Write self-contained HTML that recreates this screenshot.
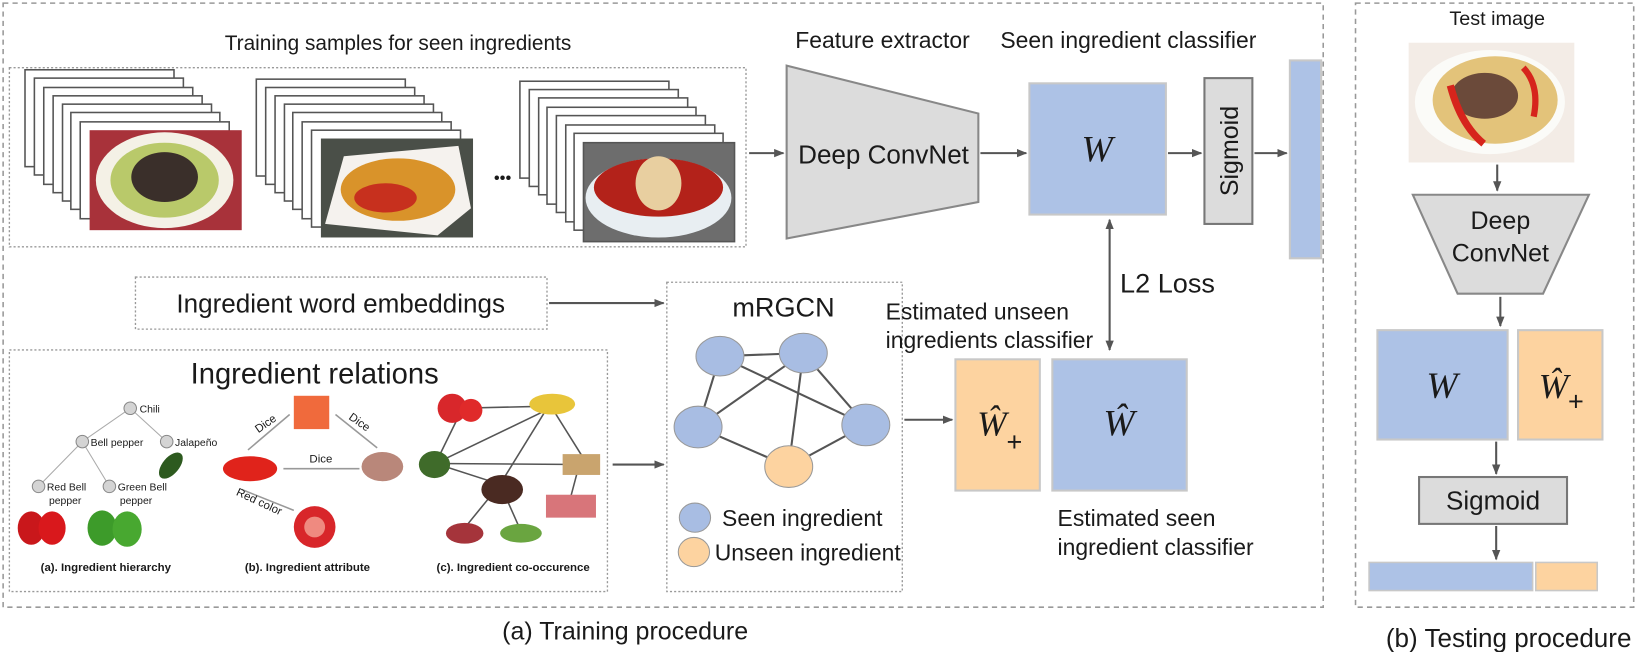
<!DOCTYPE html>
<html><head><meta charset="utf-8"><style>
html,body{margin:0;padding:0;background:#fff;}
svg{display:block;}
text{font-family:"Liberation Sans",sans-serif;fill:#1a1a1a;}
.serif{font-family:"Liberation Serif",serif;font-style:italic;}
</style></head><body>
<svg width="1641" height="652" viewBox="0 0 1575 626" preserveAspectRatio="none" xmlns="http://www.w3.org/2000/svg">
<defs>
<marker id="ah" markerWidth="10" markerHeight="8" refX="9" refY="4" orient="auto" markerUnits="userSpaceOnUse"><path d="M0,0 L10,4 L0,8 z" fill="#555"/></marker>
<marker id="ahs" markerWidth="10" markerHeight="8" refX="1" refY="4" orient="auto" markerUnits="userSpaceOnUse"><path d="M10,0 L0,4 L10,8 z" fill="#555"/></marker>
</defs>

<rect x="3" y="3" width="1267" height="580" fill="none" stroke="#999" stroke-width="1.5" stroke-dasharray="5,4"/>
<rect x="1301" y="3" width="267" height="580" fill="none" stroke="#999" stroke-width="1.5" stroke-dasharray="5,4"/>

<text x="382" y="48" font-size="20" text-anchor="middle">Training samples for seen ingredients</text>
<text x="847" y="46" font-size="22" text-anchor="middle">Feature extractor</text>
<text x="1083" y="46" font-size="22" text-anchor="middle">Seen ingredient classifier</text>

<rect x="9" y="65" width="707" height="172" fill="none" stroke="#999" stroke-width="1.3" stroke-dasharray="2,2"/>

<g fill="#fff" stroke="#555" stroke-width="1.5">
<rect x="24" y="67" width="143" height="93"/><rect x="33" y="75" width="143" height="93"/><rect x="42" y="84" width="143" height="93"/><rect x="51" y="92" width="143" height="93"/><rect x="60" y="100" width="143" height="93"/><rect x="68" y="108" width="143" height="93"/><rect x="77" y="117" width="143" height="93"/>
<rect x="246" y="76" width="143" height="93"/><rect x="255" y="84" width="143" height="93"/><rect x="264" y="92" width="143" height="93"/><rect x="273" y="100" width="143" height="93"/><rect x="281" y="108" width="143" height="93"/><rect x="290" y="117" width="143" height="93"/><rect x="299" y="125" width="143" height="93"/>
<rect x="499" y="78" width="143" height="93"/><rect x="508" y="86" width="143" height="93"/><rect x="517" y="94" width="143" height="93"/><rect x="525" y="103" width="143" height="93"/><rect x="534" y="111" width="143" height="93"/><rect x="543" y="120" width="143" height="93"/><rect x="551" y="128" width="143" height="93"/>
</g>
<rect x="86" y="125" width="146" height="96" fill="#a8323a"/>
<ellipse cx="158" cy="173" rx="66" ry="46" fill="#f4f1e6"/>
<ellipse cx="158" cy="173" rx="52" ry="36" fill="#b9c96a"/>
<ellipse cx="158" cy="170" rx="32" ry="24" fill="#3a2f2a"/>
<rect x="308" y="133" width="146" height="95" fill="#4a4f48"/>
<path d="M312,215 L330,150 L440,140 L452,200 L420,226 Z" fill="#f5f2ee"/>
<ellipse cx="382" cy="182" rx="55" ry="30" fill="#d9932a"/>
<ellipse cx="370" cy="190" rx="30" ry="14" fill="#c7301e"/>
<rect x="560" y="137" width="145" height="95" fill="#6d6d6d"/>
<ellipse cx="632" cy="190" rx="70" ry="38" fill="#e8eef2"/>
<ellipse cx="632" cy="180" rx="62" ry="28" fill="#b3221a"/>
<ellipse cx="632" cy="176" rx="22" ry="26" fill="#e8cfa0"/>
<rect x="560" y="137" width="145" height="95" fill="none" stroke="#555" stroke-width="1.5"/>
<text x="474" y="176" font-size="16" fill="#555">•••</text>

<line x1="719" y1="147" x2="752" y2="147" stroke="#555" stroke-width="2" marker-end="url(#ah)"/>
<polygon points="755,63 939,109 939,194 755,229" fill="#dcdcdc" stroke="#888" stroke-width="2"/>
<text x="848" y="157" font-size="25" text-anchor="middle">Deep ConvNet</text>
<line x1="941" y1="147" x2="985" y2="147" stroke="#555" stroke-width="2" marker-end="url(#ah)"/>
<rect x="988" y="80" width="131" height="126" fill="#adc2e6" stroke="#c8c8c8" stroke-width="2"/>
<text x="1053" y="155" font-size="36" class="serif" text-anchor="middle">W</text>
<line x1="1121" y1="147" x2="1153" y2="147" stroke="#555" stroke-width="2" marker-end="url(#ah)"/>
<rect x="1156" y="75" width="46" height="140" fill="#dcdcdc" stroke="#777" stroke-width="2"/>
<text transform="translate(1188,145) rotate(-90)" font-size="24" text-anchor="middle">Sigmoid</text>
<line x1="1204" y1="147" x2="1235" y2="147" stroke="#555" stroke-width="2" marker-end="url(#ah)"/>
<rect x="1238" y="58" width="30" height="190" fill="#adc2e6" stroke="#c8c8c8" stroke-width="2"/>

<line x1="1065" y1="211" x2="1065" y2="336" stroke="#555" stroke-width="2" marker-start="url(#ahs)" marker-end="url(#ah)"/>
<text x="1075" y="281" font-size="26">L2 Loss</text>

<rect x="130" y="266" width="395" height="50" fill="none" stroke="#999" stroke-width="1.3" stroke-dasharray="2,2"/>
<text x="327" y="300" font-size="25" text-anchor="middle">Ingredient word embeddings</text>
<line x1="527" y1="291" x2="637" y2="291" stroke="#555" stroke-width="2" marker-end="url(#ah)"/>

<rect x="9" y="336" width="574" height="232" fill="none" stroke="#999" stroke-width="1.3" stroke-dasharray="2,2"/>
<text x="302" y="368" font-size="28" text-anchor="middle">Ingredient relations</text>
<g stroke="#aaa" stroke-width="1">
<line x1="125" y1="392" x2="79" y2="424"/><line x1="125" y1="392" x2="160" y2="424"/>
<line x1="79" y1="424" x2="37" y2="467"/><line x1="79" y1="424" x2="105" y2="467"/>
</g>
<g fill="#d4d4d4" stroke="#888" stroke-width="1">
<circle cx="125" cy="392" r="6"/><circle cx="79" cy="424" r="6"/><circle cx="160" cy="424" r="6"/><circle cx="37" cy="467" r="6"/><circle cx="105" cy="467" r="6"/>
</g>
<g font-size="10" fill="#333">
<text x="134" y="396">Chili</text><text x="87" y="428">Bell pepper</text><text x="168" y="428">Jalapeño</text>
<text x="45" y="471">Red Bell</text><text x="47" y="484">pepper</text>
<text x="113" y="471">Green Bell</text><text x="115" y="484">pepper</text>
</g>
<ellipse cx="30" cy="507" rx="13" ry="16" fill="#c9171b"/><ellipse cx="50" cy="507" rx="13" ry="16" fill="#d9181c"/>
<ellipse cx="98" cy="507" rx="14" ry="17" fill="#3d9b2a"/><ellipse cx="122" cy="508" rx="14" ry="17" fill="#48a830"/>
<ellipse cx="164" cy="447" rx="8" ry="15" transform="rotate(40 164 447)" fill="#2d5a1f"/>
<g stroke="#999" stroke-width="1.5"><line x1="238" y1="432" x2="278" y2="398"/><line x1="322" y1="398" x2="362" y2="430"/><line x1="272" y1="450" x2="345" y2="450"/><line x1="232" y1="470" x2="282" y2="490"/></g>
<g font-size="11" fill="#333"><text x="248" y="416" transform="rotate(-35 248 416)">Dice</text><text x="334" y="402" transform="rotate(35 334 402)">Dice</text><text x="297" y="444">Dice</text><text x="226" y="475" transform="rotate(25 226 475)">Red color</text></g>
<rect x="282" y="380" width="34" height="32" fill="#f06a3c"/>
<ellipse cx="240" cy="450" rx="26" ry="12" fill="#e0231b"/>
<ellipse cx="367" cy="448" rx="20" ry="14" fill="#b9877a"/>
<circle cx="302" cy="506" r="20" fill="#d8262a"/><circle cx="302" cy="506" r="10" fill="#ef8a80"/>
<g stroke="#555" stroke-width="1.5"><line x1="440" y1="392" x2="525" y2="390"/><line x1="418" y1="445" x2="440" y2="400"/><line x1="418" y1="445" x2="528" y2="392"/><line x1="418" y1="445" x2="556" y2="446"/><line x1="418" y1="445" x2="480" y2="465"/><line x1="525" y1="392" x2="480" y2="465"/><line x1="530" y1="392" x2="560" y2="440"/><line x1="480" y1="465" x2="445" y2="508"/><line x1="480" y1="465" x2="500" y2="510"/><line x1="556" y1="446" x2="547" y2="480"/></g>
<circle cx="434" cy="392" r="14" fill="#d8272b"/><circle cx="452" cy="394" r="11" fill="#e02a2a"/>
<ellipse cx="530" cy="388" rx="22" ry="10" fill="#e8c53a"/>
<ellipse cx="417" cy="446" rx="15" ry="13" fill="#3f6b2a"/>
<rect x="540" y="436" width="36" height="20" fill="#c9a46e"/>
<ellipse cx="482" cy="470" rx="20" ry="14" fill="#4a2a22"/>
<rect x="524" y="475" width="48" height="22" fill="#d8757a"/>
<ellipse cx="446" cy="512" rx="18" ry="10" fill="#a5343b"/>
<ellipse cx="500" cy="512" rx="20" ry="9" fill="#6aa540"/>
<g font-size="11" font-weight="bold" fill="#222">
<text x="39" y="548">(a). Ingredient hierarchy</text><text x="235" y="548">(b). Ingredient attribute</text><text x="419" y="548">(c). Ingredient co-occurence</text>
</g>
<line x1="588" y1="446" x2="637" y2="446" stroke="#555" stroke-width="2" marker-end="url(#ah)"/>

<rect x="640" y="271" width="226" height="297" fill="none" stroke="#999" stroke-width="1.3" stroke-dasharray="2,2"/>
<text x="752" y="304" font-size="26" text-anchor="middle">mRGCN</text>
<g stroke="#555" stroke-width="2">
<line x1="691" y1="342" x2="771" y2="339"/><line x1="691" y1="342" x2="670" y2="410"/><line x1="691" y1="342" x2="831" y2="408"/>
<line x1="771" y1="339" x2="670" y2="410"/><line x1="771" y1="339" x2="757" y2="448"/><line x1="771" y1="339" x2="831" y2="408"/>
<line x1="670" y1="410" x2="757" y2="448"/><line x1="831" y1="408" x2="757" y2="448"/>
</g>
<g stroke="#999" stroke-width="1">
<ellipse cx="691" cy="342" rx="23" ry="19" fill="#a8bde3"/><ellipse cx="771" cy="339" rx="23" ry="19" fill="#a8bde3"/>
<ellipse cx="670" cy="410" rx="23" ry="20" fill="#a8bde3"/><ellipse cx="831" cy="408" rx="23" ry="20" fill="#a8bde3"/>
<ellipse cx="757" cy="448" rx="23" ry="20" fill="#fdd3a0"/>
<ellipse cx="667" cy="497" rx="15" ry="14" fill="#a8bde3"/><ellipse cx="666" cy="530" rx="15" ry="14" fill="#fdd3a0"/>
</g>
<text x="693" y="505" font-size="22">Seen ingredient</text>
<text x="686" y="538" font-size="22">Unseen ingredient</text>

<line x1="868" y1="403" x2="914" y2="403" stroke="#555" stroke-width="2" marker-end="url(#ah)"/>
<text x="850" y="307" font-size="22">Estimated unseen</text>
<text x="850" y="334" font-size="22">ingredients classifier</text>
<rect x="917" y="345" width="81" height="126" fill="#fdd3a0" stroke="#c8c8c8" stroke-width="2"/>
<text x="952" y="418" font-size="34" class="serif" text-anchor="middle">Ŵ</text>
<text x="966" y="433" font-size="26" font-family="Liberation Serif">+</text>
<rect x="1010" y="345" width="129" height="126" fill="#adc2e6" stroke="#c8c8c8" stroke-width="2"/>
<text x="1074" y="418" font-size="36" class="serif" text-anchor="middle">Ŵ</text>
<text x="1015" y="505" font-size="22">Estimated seen</text>
<text x="1015" y="533" font-size="22">ingredient classifier</text>

<text x="600" y="614" font-size="24" text-anchor="middle">(a) Training procedure</text>

<text x="1437" y="24" font-size="19" text-anchor="middle">Test image</text>
<rect x="1352" y="41" width="159" height="115" fill="#f3ece6"/>
<ellipse cx="1430" cy="98" rx="72" ry="50" fill="#fbfbf8"/>
<ellipse cx="1435" cy="96" rx="60" ry="42" fill="#e3c37a"/>
<ellipse cx="1425" cy="92" rx="32" ry="22" fill="#6b4a3a"/>
<path d="M1392,82 Q1402,120 1424,138" stroke="#d6241c" stroke-width="7" fill="none"/>
<path d="M1462,65 Q1478,82 1472,112" stroke="#d6241c" stroke-width="6" fill="none"/>
<line x1="1437" y1="158" x2="1437" y2="183" stroke="#555" stroke-width="2" marker-end="url(#ah)"/>
<polygon points="1356,187 1525,187 1481,282 1399,282" fill="#dcdcdc" stroke="#888" stroke-width="2"/>
<text x="1440" y="220" font-size="24" text-anchor="middle">Deep</text>
<text x="1440" y="251" font-size="24" text-anchor="middle">ConvNet</text>
<line x1="1440" y1="285" x2="1440" y2="313" stroke="#555" stroke-width="2" marker-end="url(#ah)"/>
<rect x="1322" y="317" width="125" height="105" fill="#adc2e6" stroke="#c8c8c8" stroke-width="2"/>
<text x="1384" y="382" font-size="36" class="serif" text-anchor="middle">W</text>
<rect x="1457" y="317" width="81" height="105" fill="#fdd3a0" stroke="#c8c8c8" stroke-width="2"/>
<text x="1491" y="382" font-size="34" class="serif" text-anchor="middle">Ŵ</text>
<text x="1505" y="394" font-size="26" font-family="Liberation Serif">+</text>
<line x1="1436" y1="424" x2="1436" y2="455" stroke="#555" stroke-width="2" marker-end="url(#ah)"/>
<rect x="1362" y="458" width="142" height="45" fill="#dcdcdc" stroke="#777" stroke-width="2"/>
<text x="1433" y="489" font-size="25" text-anchor="middle">Sigmoid</text>
<line x1="1436" y1="505" x2="1436" y2="537" stroke="#555" stroke-width="2" marker-end="url(#ah)"/>
<rect x="1314" y="540" width="157" height="27" fill="#adc2e6" stroke="#c8c8c8" stroke-width="1.5"/>
<rect x="1474" y="540" width="59" height="27" fill="#fdd3a0" stroke="#c8c8c8" stroke-width="1.5"/>
<text x="1448" y="621" font-size="25" text-anchor="middle">(b) Testing procedure</text>
</svg>
</body></html>
